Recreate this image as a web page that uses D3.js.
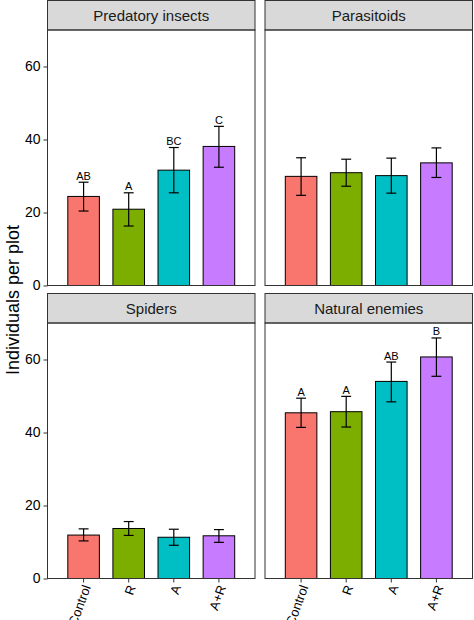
<!DOCTYPE html>
<html>
<head>
<meta charset="utf-8">
<script src="https://d3js.org/d3.v7.min.js"></script>
<style>
  body { margin: 0; background: #fff; }
  text { font-family: "Liberation Sans", Arial, Helvetica, sans-serif; }
</style>
</head>
<body>
<div id="chart"></div>
<script>
// data
var treatments = ["Control", "R", "A", "A+R"];
var groups = ["Predatory insects", "Parasitoids", "Spiders", "Natural enemies"];
var means = [
  [24.4, 20.9, 31.6, 38.1],
  [29.9, 30.9, 30.1, 33.6],
  [11.9, 13.7, 11.3, 11.7],
  [45.4, 45.7, 54.0, 60.7]
];
var upper = [
  [28.3, 25.4, 37.8, 43.6],
  [35.0, 34.6, 34.9, 37.7],
  [13.6, 15.6, 13.5, 13.4],
  [49.4, 49.9, 59.3, 65.9]
];
var lower = [
  [20.4, 16.3, 25.4, 32.4],
  [24.7, 27.2, 25.3, 29.6],
  [10.3, 11.8, 9.1, 9.9],
  [41.4, 41.5, 48.4, 55.4]
];
var letters = [
  ["AB", "A", "BC", "C"],
  ["", "", "", ""],
  ["", "", "", ""],
  ["A", "A", "AB", "B"]
];
var yTicks = [0, 20, 40, 60];

var width = 474, height = 620;
var colors = ["#F8766D", "#7CAE00", "#00BFC4", "#C77CFF"];
var panelW = 207.5, panelH = 255.5, stripH = 29.5;
var colX = [47.5, 265];
var rowY = [30, 323];   // top of plotting area

var svg = d3.select("#chart").append("svg")
  .attr("width", width)
  .attr("height", height);

var y = d3.scaleLinear().domain([0, 70]);
var x = d3.scaleBand().domain(treatments).paddingInner(0.3).paddingOuter(0.45);

groups.forEach(function(name, i) {
  var col = i % 2, row = Math.floor(i / 2);
  var g = svg.append("g")
    .attr("transform", "translate(" + colX[col] + "," + rowY[row] + ")");
  x.range([0, panelW]);
  y.range([panelH, 0]);

  // strip
  g.append("rect")
    .attr("x", 0).attr("y", -stripH)
    .attr("width", panelW).attr("height", stripH)
    .attr("fill", "#d9d9d9").attr("stroke", "#333").attr("stroke-width", 1);
  g.append("text")
    .attr("x", panelW / 2).attr("y", -stripH / 2)
    .attr("dy", "0.36em")
    .attr("text-anchor", "middle")
    .style("font-size", "15px")
    .attr("fill", "#1a1a1a")
    .text(name);

  // bars
  var data = treatments.map(function(t, j) {
    return {t: t, m: means[i][j], hi: upper[i][j], lo: lower[i][j], lab: letters[i][j], c: colors[j]};
  });
  g.selectAll("rect.bar").data(data).enter().append("rect")
    .attr("class", "bar")
    .attr("x", function(d) { return x(d.t); })
    .attr("width", x.bandwidth())
    .attr("y", function(d) { return y(d.m); })
    .attr("height", function(d) { return y(0) - y(d.m); })
    .attr("fill", function(d) { return d.c; })
    .attr("stroke", "#000").attr("stroke-width", 1);

  // error bars
  var cap = x.step() * 0.11;
  var eb = g.selectAll("g.err").data(data).enter().append("g").attr("class", "err")
    .attr("stroke", "#000").attr("stroke-width", 1.2);
  eb.append("line")
    .attr("x1", function(d) { return x(d.t) + x.bandwidth() / 2; })
    .attr("x2", function(d) { return x(d.t) + x.bandwidth() / 2; })
    .attr("y1", function(d) { return y(d.hi); })
    .attr("y2", function(d) { return y(d.lo); });
  eb.append("line")
    .attr("x1", function(d) { return x(d.t) + x.bandwidth() / 2 - cap; })
    .attr("x2", function(d) { return x(d.t) + x.bandwidth() / 2 + cap; })
    .attr("y1", function(d) { return y(d.hi); })
    .attr("y2", function(d) { return y(d.hi); });
  eb.append("line")
    .attr("x1", function(d) { return x(d.t) + x.bandwidth() / 2 - cap; })
    .attr("x2", function(d) { return x(d.t) + x.bandwidth() / 2 + cap; })
    .attr("y1", function(d) { return y(d.lo); })
    .attr("y2", function(d) { return y(d.lo); });

  // significance letters
  g.selectAll("text.lab").data(data).enter().append("text")
    .attr("class", "lab")
    .attr("x", function(d) { return x(d.t) + x.bandwidth() / 2; })
    .attr("y", function(d) { return y(d.hi) - 2.5; })
    .attr("text-anchor", "middle")
    .style("font-size", "11px")
    .attr("fill", "#000")
    .text(function(d) { return d.lab; });

  // panel border
  g.append("rect")
    .attr("width", panelW).attr("height", panelH)
    .attr("fill", "none").attr("stroke", "#333").attr("stroke-width", 1);

  // y axis on left column
  if (col === 0) {
    var ya = g.append("g").call(d3.axisLeft(y).tickValues(yTicks).tickSize(4).tickPadding(3));
    ya.select(".domain").remove();
    ya.selectAll("line").attr("stroke", "#333");
    ya.selectAll("text").style("font-size", "14px").attr("fill", "#000");
  }
  // x axis on bottom row
  if (row === 1) {
    var xa = g.append("g").attr("transform", "translate(0," + panelH + ")")
      .call(d3.axisBottom(x).tickSize(4));
    xa.select(".domain").remove();
    xa.selectAll("line").attr("stroke", "#333");
    xa.selectAll("text")
      .style("font-size", "13px").attr("fill", "#000")
      .attr("text-anchor", "end")
      .attr("x", 0).attr("y", 0).attr("dy", "0.35em")
      .attr("transform", "translate(3,7) rotate(-70)");
  }
});

// shared y title
svg.append("text")
  .attr("transform", "translate(13,300) rotate(-90)")
  .attr("text-anchor", "middle")
  .attr("dy", "0.35em")
  .style("font-size", "18px")
  .attr("fill", "#000")
  .text("Individuals per plot");
</script>
</body>
</html>
